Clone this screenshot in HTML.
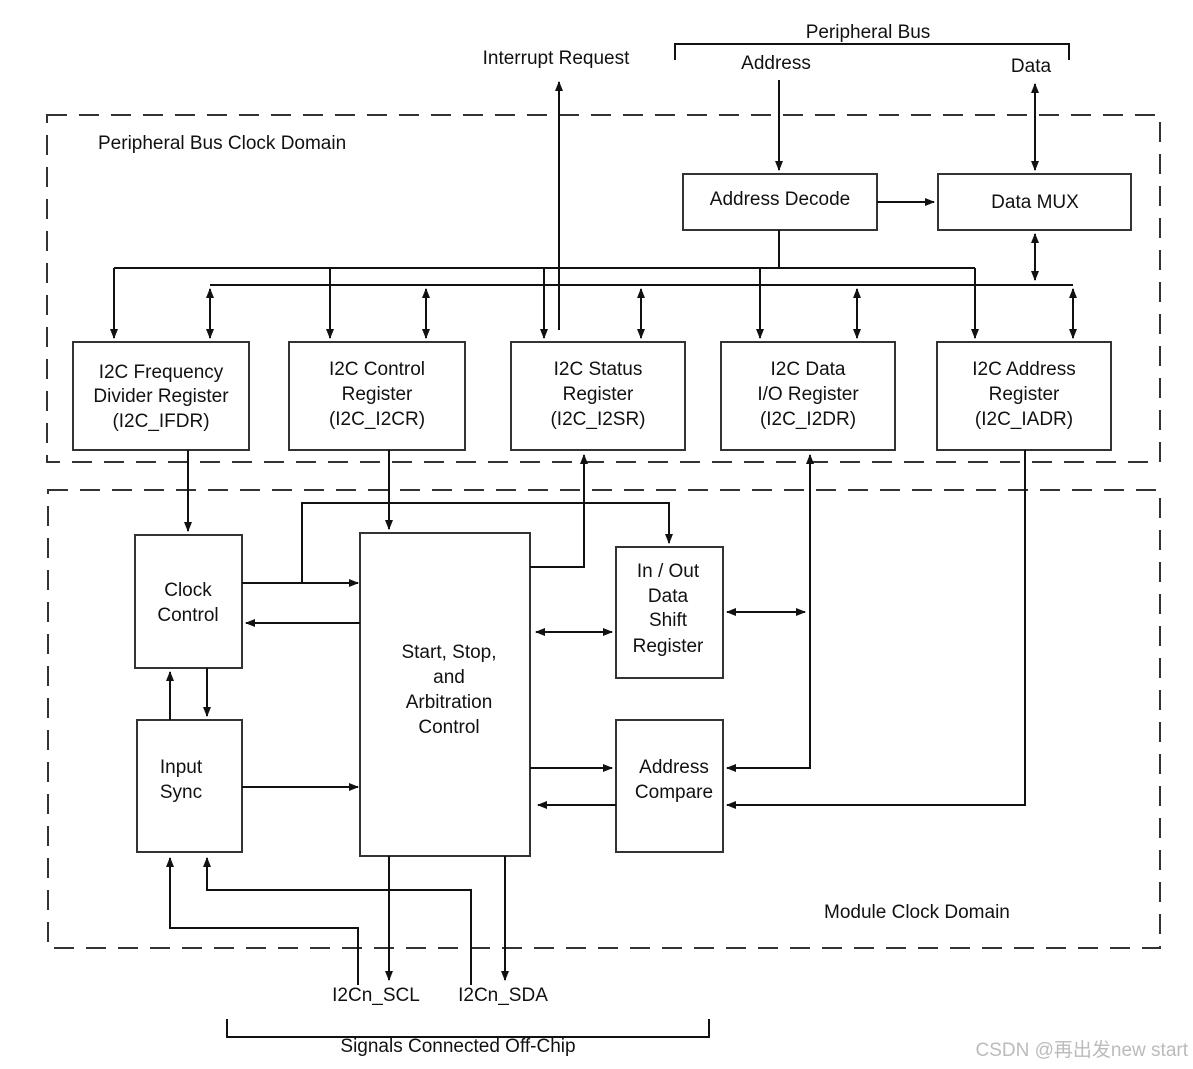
<!DOCTYPE html>
<html><head><meta charset="utf-8"><style>
html,body{margin:0;padding:0;background:#fff;}
svg{display:block;}
text{font-family:"Liberation Sans","Noto Sans CJK SC",sans-serif;font-size:19px;fill:#111;}
</style></head><body>
<svg width="1193" height="1069" viewBox="0 0 1193 1069" xmlns="http://www.w3.org/2000/svg">
<defs>
<marker id="a" viewBox="0 0 10 10" refX="9" refY="5" markerWidth="10" markerHeight="10" markerUnits="userSpaceOnUse" orient="auto-start-reverse"><path d="M0,1 L10,5 L0,9 z" fill="#111"/></marker>
</defs>
<g fill="none" stroke="#333" stroke-width="2" stroke-dasharray="20,12">
<rect x="47" y="115" width="1113" height="347"/>
<rect x="48" y="490" width="1112" height="458"/>
</g>
<g fill="#fff" stroke="#333" stroke-width="2">
<rect x="683" y="174" width="194" height="56"/>
<rect x="938" y="174" width="193" height="56"/>
<rect x="73" y="342" width="176" height="108"/>
<rect x="289" y="342" width="176" height="108"/>
<rect x="511" y="342" width="174" height="108"/>
<rect x="721" y="342" width="174" height="108"/>
<rect x="937" y="342" width="174" height="108"/>
<rect x="135" y="535" width="107" height="133"/>
<rect x="137" y="720" width="105" height="132"/>
<rect x="360" y="533" width="170" height="323"/>
<rect x="616" y="547" width="107" height="131"/>
<rect x="616" y="720" width="107" height="132"/>
</g>
<g fill="none" stroke="#111" stroke-width="2">
<polyline points="675,60 675,44 1069,44 1069,60"/>
<polyline points="227,1019 227,1037 709,1037 709,1019"/>
<line x1="779" y1="80" x2="779" y2="170" marker-end="url(#a)"/>
<line x1="1035" y1="84" x2="1035" y2="170" marker-start="url(#a)" marker-end="url(#a)"/>
<line x1="559" y1="330" x2="559" y2="82" marker-end="url(#a)"/>
<line x1="877" y1="202" x2="934" y2="202" marker-end="url(#a)"/>
<line x1="779" y1="230" x2="779" y2="268"/>
<line x1="114" y1="268" x2="975" y2="268"/>
<line x1="210" y1="285" x2="1073" y2="285"/>
<line x1="1035" y1="234" x2="1035" y2="280" marker-start="url(#a)" marker-end="url(#a)"/>
<line x1="114" y1="268" x2="114" y2="338" marker-end="url(#a)"/>
<line x1="330" y1="268" x2="330" y2="338" marker-end="url(#a)"/>
<line x1="544" y1="268" x2="544" y2="338" marker-end="url(#a)"/>
<line x1="760" y1="268" x2="760" y2="338" marker-end="url(#a)"/>
<line x1="975" y1="268" x2="975" y2="338" marker-end="url(#a)"/>
<line x1="210" y1="289" x2="210" y2="338" marker-start="url(#a)" marker-end="url(#a)"/>
<line x1="426" y1="289" x2="426" y2="338" marker-start="url(#a)" marker-end="url(#a)"/>
<line x1="641" y1="289" x2="641" y2="338" marker-start="url(#a)" marker-end="url(#a)"/>
<line x1="857" y1="289" x2="857" y2="338" marker-start="url(#a)" marker-end="url(#a)"/>
<line x1="1073" y1="289" x2="1073" y2="338" marker-start="url(#a)" marker-end="url(#a)"/>
<line x1="188" y1="450" x2="188" y2="531" marker-end="url(#a)"/>
<line x1="389" y1="450" x2="389" y2="529" marker-end="url(#a)"/>
<polyline points="530,567 584,567 584,455" marker-end="url(#a)"/>
<polyline points="810,455 810,768 727,768" marker-start="url(#a)" marker-end="url(#a)"/>
<polyline points="1025,450 1025,805 727,805" marker-end="url(#a)"/>
<line x1="727" y1="612" x2="805" y2="612" marker-start="url(#a)" marker-end="url(#a)"/>
<line x1="242" y1="583" x2="358" y2="583" marker-end="url(#a)"/>
<polyline points="302,583 302,503 669,503 669,543" marker-end="url(#a)"/>
<line x1="360" y1="623" x2="246" y2="623" marker-end="url(#a)"/>
<line x1="207" y1="668" x2="207" y2="716" marker-end="url(#a)"/>
<line x1="170" y1="720" x2="170" y2="672" marker-end="url(#a)"/>
<line x1="242" y1="787" x2="358" y2="787" marker-end="url(#a)"/>
<line x1="536" y1="632" x2="612" y2="632" marker-start="url(#a)" marker-end="url(#a)"/>
<line x1="530" y1="768" x2="612" y2="768" marker-end="url(#a)"/>
<line x1="616" y1="805" x2="538" y2="805" marker-end="url(#a)"/>
<line x1="389" y1="856" x2="389" y2="980" marker-end="url(#a)"/>
<line x1="505" y1="856" x2="505" y2="980" marker-end="url(#a)"/>
<polyline points="358,985 358,928 170,928 170,858" marker-end="url(#a)"/>
<polyline points="471,985 471,890 207,890 207,858" marker-end="url(#a)"/>
</g>
<g text-anchor="middle">
<text x="868" y="38">Peripheral Bus</text>
<text x="776" y="69">Address</text>
<text x="1031" y="72">Data</text>
<text x="556" y="64">Interrupt Request</text>
<text x="780" y="205">Address Decode</text>
<text x="1035" y="208">Data MUX</text>
<text x="161" y="378">I2C Frequency</text><text x="161" y="402">Divider Register</text><text x="161" y="427">(I2C_IFDR)</text>
<text x="377" y="375">I2C Control</text><text x="377" y="400">Register</text><text x="377" y="425">(I2C_I2CR)</text>
<text x="598" y="375">I2C Status</text><text x="598" y="400">Register</text><text x="598" y="425">(I2C_I2SR)</text>
<text x="808" y="375">I2C Data</text><text x="808" y="400">I/O Register</text><text x="808" y="425">(I2C_I2DR)</text>
<text x="1024" y="375">I2C Address</text><text x="1024" y="400">Register</text><text x="1024" y="425">(I2C_IADR)</text>
<text x="188" y="596">Clock</text><text x="188" y="621">Control</text>
<text x="181" y="773">Input</text><text x="181" y="798">Sync</text>
<text x="449" y="658">Start,  Stop,</text><text x="449" y="683">and</text><text x="449" y="708">Arbitration</text><text x="449" y="733">Control</text>
<text x="668" y="577">In / Out</text><text x="668" y="602">Data</text><text x="668" y="626">Shift</text><text x="668" y="652">Register</text>
<text x="674" y="773">Address</text><text x="674" y="798">Compare</text>
<text x="376" y="1001">I2Cn_SCL</text>
<text x="503" y="1001">I2Cn_SDA</text>
<text x="458" y="1052">Signals Connected Off-Chip</text>
</g>
<text x="98" y="149">Peripheral Bus Clock Domain</text>
<text x="824" y="918">Module Clock Domain</text>
<text x="1188" y="1056" text-anchor="end" style="fill:#bbb;font-size:19px">CSDN @再出发new start</text>
</svg>
</body></html>
